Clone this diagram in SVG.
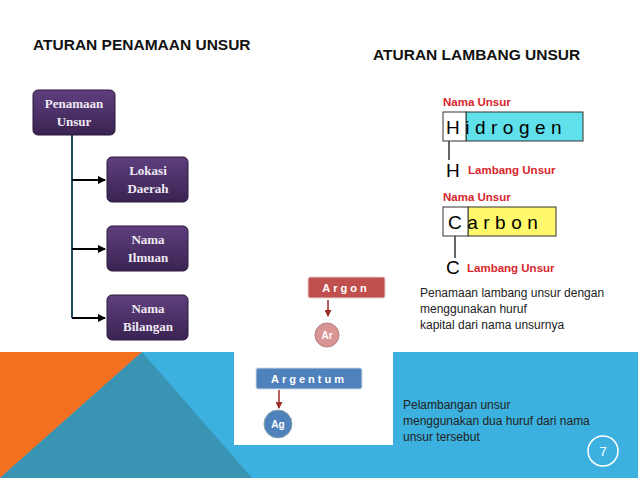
<svg xmlns="http://www.w3.org/2000/svg" width="638" height="478" viewBox="0 0 638 478">
<defs>
<marker id="ah" markerWidth="8" markerHeight="8" refX="7" refY="4" orient="auto" markerUnits="userSpaceOnUse"><path d="M0,0 L8,4 L0,8 z" fill="#000"/></marker>
<marker id="ar" markerWidth="7" markerHeight="7" refX="6" refY="3.5" orient="auto" markerUnits="userSpaceOnUse"><path d="M0,0 L7,3.5 L0,7 z" fill="#9b2d2a"/></marker>
<linearGradient id="pg" x1="0" y1="0" x2="0" y2="1"><stop offset="0" stop-color="#5f3f7e"/><stop offset="1" stop-color="#3a2352"/></linearGradient>
</defs>
<style>
.t{font-family:"Liberation Sans",Arial,sans-serif}
.title{font-family:"Liberation Sans",Arial,sans-serif;font-weight:bold;font-size:15.5px;fill:#111}
.pb{fill:url(#pg);stroke:#2a1a3a;stroke-width:1}
.pt{font-family:"Liberation Serif","Times New Roman",serif;font-weight:bold;font-size:13px;fill:#f0eaf4;text-anchor:middle}
.red{font-family:"Liberation Sans",Arial,sans-serif;font-weight:bold;font-size:11.5px;fill:#d8262d}
.big{font-family:"Liberation Sans",Arial,sans-serif;font-size:19px;fill:#000;letter-spacing:5.5px}
.body{font-family:"Liberation Sans",Arial,sans-serif;font-size:12px;fill:#222}
</style>
<rect width="638" height="478" fill="#fff"/>
<rect x="0" y="352" width="638" height="126" fill="#3cb1df"/>
<polygon points="0,352 142,352 0,478" fill="#f47021"/>
<polygon points="142,352 252,478 0,478" fill="#3994b4"/>
<rect x="234" y="352" width="159" height="93" fill="#fff"/>
<text class="title" x="33" y="50">ATURAN PENAMAAN UNSUR</text>
<text class="title" x="373" y="60">ATURAN LAMBANG UNSUR</text>
<g id="connectors" stroke-width="2" fill="none">
<path d="M72,135 V318" stroke="#1f4e5f"/>
<path d="M72,180 H105" stroke="#000" marker-end="url(#ah)"/>
<path d="M72,249 H105" stroke="#000" marker-end="url(#ah)"/>
<path d="M72,318 H105" stroke="#000" marker-end="url(#ah)"/>
<path d="M449,141 V160" stroke="#333" stroke-width="1.5"/>
<path d="M455,236 V258" stroke="#333" stroke-width="1.5"/>
<path d="M328,300 V316" stroke="#9b2d2a" stroke-width="1.5" marker-end="url(#ar)"/>
<path d="M279,390 V408" stroke="#9b2d2a" stroke-width="1.5" marker-end="url(#ar)"/>
</g>
<g id="penamaan"><rect class="pb" x="33" y="90" width="82" height="45" rx="5"/><text class="pt" x="74" y="108">Penamaan</text><text class="pt" x="74" y="126">Unsur</text></g>
<g id="lokasi"><rect class="pb" x="107" y="157" width="81" height="45" rx="5"/><text class="pt" x="148" y="175">Lokasi</text><text class="pt" x="148" y="193">Daerah</text></g>
<g id="ilmuan"><rect class="pb" x="107" y="226" width="81" height="45" rx="5"/><text class="pt" x="148" y="244">Nama</text><text class="pt" x="148" y="262">Ilmuan</text></g>
<g id="bilangan"><rect class="pb" x="107" y="295" width="81" height="45" rx="5"/><text class="pt" x="148" y="313">Nama</text><text class="pt" x="148" y="331">Bilangan</text></g>
<g id="hidrogen">
<text class="red" x="443" y="106">Nama Unsur</text>
<rect x="466" y="112" width="117" height="29" fill="#5fe0ea" stroke="#333"/>
<rect x="443" y="112" width="23" height="29" fill="#fff" stroke="#333"/>
<text class="big" x="446" y="134">Hidrogen</text>
<text class="t" x="446" y="177" font-size="19" fill="#000">H</text>
<text class="red" x="468" y="174">Lambang Unsur</text>
</g>
<g id="carbon">
<text class="red" x="443" y="201">Nama Unsur</text>
<rect x="468" y="207" width="88" height="29" fill="#fff86a" stroke="#333"/>
<rect x="443" y="207" width="25" height="29" fill="#fff" stroke="#333"/>
<text class="big" x="448" y="229">Carbon</text>
<text class="t" x="446" y="274" font-size="19" fill="#000">C</text>
<text class="red" x="467" y="272">Lambang Unsur</text>
</g>
<g id="argon"><rect x="308" y="277" width="77" height="21" rx="2" fill="#c0504d" stroke="#e6d0d0"/><text class="t" x="346" y="292" font-size="11" font-weight="bold" fill="#fff" text-anchor="middle" letter-spacing="3">Argon</text></g>
<g id="ar"><circle cx="327" cy="335" r="12" fill="#d99594" stroke="#b08080"/><text class="t" x="327" y="339" font-size="10" font-weight="bold" fill="#fff" text-anchor="middle">Ar</text></g>
<g id="argentum"><rect x="256" y="368" width="106" height="21" rx="2" fill="#4f81bd" stroke="#d0d8e6"/><text class="t" x="309" y="383" font-size="11" font-weight="bold" fill="#fff" text-anchor="middle" letter-spacing="3">Argentum</text></g>
<g id="ag"><circle cx="278" cy="424" r="14" fill="#4f81bd" stroke="#8aa"/><text class="t" x="278" y="428" font-size="10" font-weight="bold" fill="#fff" text-anchor="middle">Ag</text></g>
<text class="body" x="420" y="297">Penamaan lambang unsur dengan</text>
<text class="body" x="420" y="313">menggunakan huruf</text>
<text class="body" x="420" y="329">kapital dari nama unsurnya</text>
<text class="body" x="403" y="409">Pelambangan unsur</text>
<text class="body" x="403" y="425">menggunakan dua huruf dari nama</text>
<text class="body" x="403" y="441">unsur tersebut</text>
<circle cx="603" cy="451" r="15" fill="none" stroke="#fff" stroke-width="1.5"/>
<text class="t" x="603" y="456" font-size="13" fill="#fff" text-anchor="middle">7</text>
</svg>
